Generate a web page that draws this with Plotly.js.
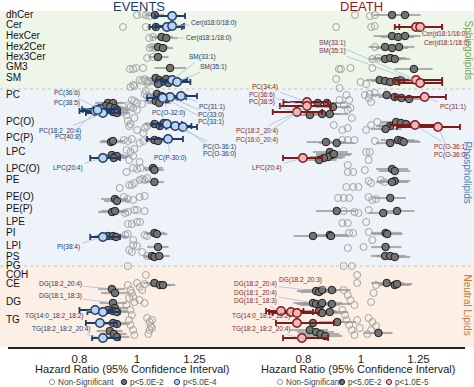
<!DOCTYPE html>
<html><head><meta charset="utf-8">
<script src="https://cdn.plot.ly/plotly-3.0.1.min.js"></script>
<style>html,body{margin:0;padding:0;background:#fff}#chart{width:474px;height:387px}</style>
</head><body><div id="chart"></div>
<script>
// ---------- DATA ----------
// row labels (lipid classes) and their row positions (species index)
const classNames = ['dhCer','Cer','HexCer','Hex2Cer','Hex3Cer','GM3','SM','PC','PC(O)','PC(P)','LPC','LPC(O)','PE','PE(O)','PE(P)','LPE','PI','LPI','PS','PG','COH','CE','DG','TG'];
const classRows  = [15,25,36,47,57,67,78,95,122,137,151,168,179,196,208,221,232,245,256,265,274,283,301,319];
const groupNames = ['Sphingolipids','Phospholipids','Neutral Lipids'];
const groupBounds = [[11,89],[89,266],[266,347]];
const tickVals = [0.8, 1, 1.25];
const tickText = ['0.8','1','1.25'];

// EVENTS: non-significant [row, HR]
const eventsNS = [[15,1.00],[14,1.02],[15,1.035],[16,1.05],[27,0.947],[27,1.035],[38,1.048],[37,1.064],[48,1.05],[47,1.06],[48,1.072],[58,1.04],[57,1.064],[69,0.973],[69,0.985],[68,0.996],[68,1.024],[80,1.01],[81,1.02],[79,1.03],[83,1.04],[85,0.985],[87,0.975],[86,0.99],[91,1.035],[94,1.03],[96,1.04],[98,1.05],[100,0.98],[101,0.99],[103,1.0],[99,1.06],[105,0.97],[107,0.975],[108,0.985],[110,1.0],[104,1.02],[112,0.95],[115,0.96],[118,0.99],[121,0.965],[124,0.975],[126,0.97],[128,1.03],[126,1.04],[130,1.0],[133,1.025],[140,0.95],[141,0.965],[139,0.98],[143,1.01],[141,1.025],[150,0.96],[152,0.975],[156,0.985],[160,0.97],[162,1.01],[149,0.99],[172,0.96],[168,0.985],[169,1.0],[168,1.015],[188,0.935],[185,0.97],[185,0.98],[183,0.99],[180,1.01],[179,1.02],[180,1.03],[178,1.04],[197,0.95],[199,0.965],[200,0.985],[197,1.01],[196,1.03],[213,0.955],[212,0.965],[210,0.99],[210,1.0],[211,1.03],[224,0.965],[224,0.98],[222,1.0],[222,1.012],[235,0.955],[234,0.965],[240,0.985],[235,1.03],[236,1.04],[250,0.97],[245,0.985],[246,1.0],[252,1.02],[252,0.98],[256,1.04],[266,0.965],[275,1.035],[283,1.0],[287,1.01],[290,1.02],[284,1.03],[285,0.965],[290,0.975],[293,0.98],[297,0.985],[302,0.99],[300,1.01],[303,1.03],[298,0.97],[305,0.96],[310,0.975],[315,0.98],[320,0.97],[325,0.975],[330,0.985],[335,0.99],[318,1.04],[322,1.05],[326,1.055],[330,1.05],[334,1.045],[320,1.06],[328,1.06]];
// EVENTS: p<5.0E-2 [row, HR, low, high]
const eventsSig = [[15,1.072,1.035,1.11],[27,1.076,1.04,1.115],[37,1.10,1.055,1.15],[38,1.12,1.07,1.17],[47,1.085,1.045,1.13],[48,1.106,1.06,1.15],[57,1.085,1.045,1.13],[68,1.137,1.07,1.21],[78,1.075,1.03,1.12],[80,1.09,1.04,1.14],[82,1.10,1.05,1.15],[79,1.12,1.06,1.18],[83,1.13,1.07,1.19],[84,1.085,1.03,1.14],[94,1.08,1.035,1.13],[96,1.10,1.05,1.15],[99,1.12,1.06,1.18],[101,1.075,1.03,1.12],[103,1.09,1.04,1.14],[103,0.893,0.85,0.94],[103,0.911,0.87,0.955],[106,0.886,0.845,0.93],[107,0.90,0.855,0.945],[108,0.918,0.875,0.96],[110,0.925,0.88,0.97],[112,0.911,0.865,0.955],[113,0.925,0.88,0.97],[124,1.07,1.03,1.11],[126,1.093,1.045,1.14],[123,1.11,1.06,1.16],[142,0.904,0.865,0.945],[141,0.911,0.87,0.95],[140,1.07,1.03,1.11],[141,1.085,1.04,1.13],[155,0.907,0.865,0.95],[157,0.918,0.875,0.965],[156,0.925,0.88,0.97],[158,0.914,0.87,0.96],[168,1.064,1.025,1.105],[170,1.07,1.03,1.11],[182,1.07,1.03,1.11],[199,0.918,0.87,0.965],[201,0.925,0.88,0.97],[212,0.908,0.86,0.955],[211,0.918,0.87,0.965],[236,0.893,0.85,0.94],[236,0.911,0.87,0.955],[237,0.922,0.88,0.965],[233,1.07,1.03,1.115],[234,1.08,1.035,1.125],[247,1.085,1.04,1.13],[256,1.06,1.025,1.1],[257,1.07,1.03,1.11],[256,1.09,1.045,1.135],[283,1.07,1.025,1.12],[285,1.093,1.045,1.14],[285,1.106,1.055,1.16],[289,0.907,0.86,0.955],[293,0.918,0.87,0.965],[303,0.911,0.865,0.96],[308,0.918,0.87,0.965],[310,0.893,0.85,0.94],[311,0.911,0.865,0.96],[312,0.925,0.88,0.97],[323,0.911,0.865,0.96],[324,0.925,0.88,0.97],[331,0.9,0.855,0.945],[334,0.914,0.87,0.96],[337,0.925,0.88,0.97]];
// EVENTS: p<5.0E-4 [row, HR, low, high]
const eventsTop = [[16,1.146,1.072,1.205],[27,1.123,1.05,1.19],[26,1.146,1.075,1.20],[80,1.146,1.08,1.215],[82,1.168,1.10,1.23],[97,1.137,1.07,1.21],[96,1.186,1.11,1.262],[98,1.105,1.04,1.17],[109,0.866,0.808,0.93],[111,0.85,0.80,0.905],[113,0.876,0.82,0.935],[110,0.858,0.81,0.915],[124,1.123,1.06,1.19],[126,1.16,1.09,1.235],[127,1.195,1.12,1.262],[139,1.128,1.04,1.195],[158,0.876,0.834,0.936],[237,0.876,0.834,0.936],[310,0.85,0.80,0.91],[312,0.876,0.825,0.935],[323,0.866,0.82,0.925],[338,0.876,0.84,0.935]];
// EVENTS labels: [text, set, index, label HR, label row]
const eventsLabels = [['Cer(d18:0/18:0)','top',2,1.348,23],['Cer(d18:1/18:0)','sig',3,1.322,38],['SM(33:1)','top',3,1.287,57],['SM(35:1)','top',4,1.343,67],['PC(36:6)','top',8,0.762,93],['PC(38:5)','top',9,0.762,103],['PC(31:1)','top',6,1.338,107],['PC(O-32:0)','top',7,1.128,113],['PC(33:0)','top',5,1.332,115],['PC(33:1)','sig',16,1.332,122],['PC(18:2_20:4)','top',10,0.742,131],['PC(40:8)','top',11,0.765,137],['PC(O-36:1)','top',13,1.375,147],['PC(O-36:0)','top',14,1.375,154],['PC(P-30:0)','top',15,1.137,158],['LPC(20:4)','top',16,0.765,168],['PI(38:4)','top',17,0.768,247],['DG(18:2_20:4)','sig',57,0.742,284],['DG(18:1_18:3)','sig',59,0.742,296],['TG(14:0_18:2_18:2)','top',18,0.727,316],['TG(18:2_18:2_20:4)','top',21,0.745,329]];

// DEATH: non-significant [row, HR]
const deathNS = [[15,0.977],[16,1.035],[15,1.055],[27,0.908],[27,1.04],[26,1.055],[47,1.056],[59,1.045],[58,1.07],[69,0.918],[69,0.925],[68,0.96],[68,1.045],[79,0.908],[82,0.998],[84,1.02],[88,0.92],[95,1.015],[94,1.035],[93,1.055],[100,0.92],[105,0.935],[95,0.945],[98,1.03],[102,1.04],[100,0.955],[110,0.95],[108,0.96],[125,0.9],[130,0.93],[128,0.95],[118,0.965],[125,1.04],[122,1.065],[127,1.09],[130,1.02],[140,0.93],[140,0.95],[140,0.975],[141,1.055],[152,1.02],[152,1.035],[160,1.03],[165,0.95],[172,0.95],[172,0.97],[170,1.015],[187,0.945],[187,0.97],[187,0.99],[181,1.03],[183,1.04],[180,1.08],[182,1.095],[198,0.915],[198,0.935],[198,0.955],[197,1.03],[200,1.045],[199,1.06],[211,0.935],[212,0.975],[213,0.99],[210,1.03],[223,0.93],[223,0.95],[222,1.02],[233,0.955],[233,0.97],[232,1.03],[240,1.045],[248,0.95],[247,1.01],[266,0.935],[266,0.965],[275,0.985],[285,1.06],[293,1.05],[302,1.04],[283,0.985],[290,0.935],[295,0.95],[300,0.96],[305,0.975],[310,0.93],[315,0.94],[320,0.945],[325,0.955],[330,0.965],[335,0.975],[318,1.03],[322,1.045],[326,1.06],[330,1.04],[334,1.025],[320,0.985],[328,0.995]];
// DEATH: p<5.0E-2
const deathSig = [[15,1.128,1.05,1.21],[15,1.186,1.11,1.26],[36,1.128,1.05,1.21],[37,1.155,1.08,1.23],[36,1.186,1.11,1.26],[47,1.098,1.03,1.17],[48,1.128,1.06,1.20],[47,1.159,1.09,1.23],[59,1.098,1.03,1.17],[58,1.12,1.05,1.19],[59,1.14,1.07,1.21],[69,1.228,1.14,1.32],[80,1.075,1.02,1.13],[81,1.098,1.04,1.16],[82,1.12,1.06,1.18],[81,1.146,1.08,1.21],[80,1.168,1.10,1.24],[95,1.105,1.04,1.17],[97,1.14,1.07,1.21],[98,1.17,1.10,1.24],[99,1.205,1.13,1.28],[103,0.846,0.79,0.91],[103,0.876,0.82,0.94],[107,0.897,0.84,0.96],[115,0.82,0.77,0.88],[114,0.86,0.80,0.92],[114,0.886,0.83,0.95],[126,1.12,1.06,1.19],[122,1.146,1.08,1.21],[123,1.168,1.10,1.24],[124,1.19,1.12,1.26],[129,1.10,1.04,1.17],[142,0.873,0.81,0.94],[143,0.91,0.85,0.975],[140,1.155,1.08,1.23],[141,1.17,1.10,1.25],[142,1.18,1.10,1.26],[143,1.12,1.06,1.19],[152,0.886,0.83,0.95],[155,0.893,0.84,0.96],[157,0.88,0.82,0.94],[158,0.866,0.81,0.93],[160,0.85,0.80,0.91],[154,0.9,0.84,0.965],[169,1.128,1.06,1.20],[171,1.14,1.07,1.21],[181,1.14,1.07,1.21],[182,1.128,1.06,1.20],[198,1.12,1.05,1.19],[211,0.91,0.84,0.98],[213,1.09,1.03,1.16],[211,1.15,1.08,1.23],[236,0.83,0.77,0.89],[235,0.886,0.83,0.95],[236,0.89,0.83,0.955],[233,1.10,1.04,1.17],[234,1.107,1.045,1.175],[247,1.10,1.04,1.17],[256,1.098,1.04,1.16],[256,1.12,1.06,1.19],[257,1.14,1.08,1.21],[283,1.105,1.04,1.18],[285,1.14,1.07,1.21],[284,1.15,1.08,1.22],[291,0.84,0.78,0.90],[292,0.85,0.79,0.91],[290,0.86,0.80,0.92],[290,0.893,0.83,0.96],[303,0.83,0.77,0.89],[304,0.84,0.78,0.90],[305,0.855,0.79,0.92],[303,0.86,0.80,0.93],[304,0.893,0.83,0.96],[311,0.85,0.79,0.91],[313,0.86,0.80,0.925],[312,0.886,0.83,0.95],[323,0.83,0.77,0.89],[322,0.912,0.85,0.98],[330,0.82,0.76,0.88],[332,0.84,0.78,0.90],[334,0.855,0.80,0.92],[336,0.87,0.81,0.93],[333,1.07,1.01,1.13]];
// DEATH: p<1.0E-5
const deathTop = [[27,1.238,1.14,1.37],[27,1.258,1.16,1.37],[80,1.238,1.14,1.37],[83,1.258,1.16,1.37],[97,1.28,1.14,1.39],[102,0.811,0.74,0.88],[106,0.811,0.73,0.89],[112,0.78,0.71,0.86],[125,1.233,1.12,1.35],[127,1.348,1.15,1.468],[158,0.798,0.739,0.86],[311,0.733,0.692,0.80],[312,0.762,0.70,0.83],[313,0.78,0.71,0.85],[323,0.78,0.719,0.90],[338,0.795,0.739,0.88]];
const deathLabels = [['Cer(d18:1/16:0)','top',1,1.385,34],['Cer(d18:1/18:0)','top',0,1.395,43],['SM(33:1)','top',2,0.894,43],['SM(35:1)','top',3,0.894,51],['PC(34:4)','top',5,0.689,87],['PC(36:6)','top',6,0.681,95],['PC(38:5)','top',7,0.681,102],['PC(31:1)','top',4,1.429,107],['PC(18:2_20:4)','top',7,0.668,131],['PC(16:0_20:4)','top',6,0.668,140],['PC(O-36:1)','top',8,1.413,147],['PC(O-36:0)','top',9,1.413,155],['LPC(20:4)','top',10,0.694,168],['DG(18:2_20:3)','sig',67,0.792,280],['DG(18:2_20:4)','sig',64,0.665,284],['DG(18:1_20:4)','sig',68,0.665,293],['DG(18:1_18:3)','top',11,0.665,301],['TG(14:0_18:2_18:2)','top',12,0.681,316],['TG(18:2_18:2_20:4)','top',15,0.681,329]];

// ---------- STYLE ----------
const W = 474, H = 387;
const px = v => v / W, py = v => 1 - v / H;
const FONT = 'Liberation Sans, Arial, sans-serif';
const NAVY = '#213b68', DRED = '#7e1a1a';
const panels = [
  {xa:'x', ns:eventsNS, sig:eventsSig, top:eventsTop, labels:eventsLabels, topFill:'#b9d4f0', topLine:NAVY, labelColor:'#253c66'},
  {xa:'x2', ns:deathNS, sig:deathSig, top:deathTop, labels:deathLabels, topFill:'#f3b5b5', topLine:DRED, labelColor:'#84282a'}
];

const traces = [];
const annotations = [];
panels.forEach(p => {
  traces.push({type:'scatter', mode:'markers', xaxis:p.xa, yaxis:'y',
    x:p.ns.map(d=>d[1]), y:p.ns.map(d=>d[0]),
    marker:{symbol:'circle-open', size:7, color:'#a3a3a3', line:{width:1}}, hoverinfo:'skip'});
  traces.push({type:'scatter', mode:'markers', xaxis:p.xa, yaxis:'y',
    x:p.sig.map(d=>d[1]), y:p.sig.map(d=>d[0]),
    error_x:{type:'data', symmetric:false, array:p.sig.map(d=>d[3]-d[1]), arrayminus:p.sig.map(d=>d[1]-d[2]), color:'rgba(150,150,150,0.75)', thickness:2.2, width:0},
    marker:{size:7.5, color:'#737373', line:{color:'#1c1c1c', width:1}}, hoverinfo:'skip'});
  traces.push({type:'scatter', mode:'markers', xaxis:p.xa, yaxis:'y',
    x:p.top.map(d=>d[1]), y:p.top.map(d=>d[0]),
    error_x:{type:'data', symmetric:false, array:p.top.map(d=>d[3]-d[1]), arrayminus:p.top.map(d=>d[1]-d[2]), color:p.topLine, thickness:1.8, width:3},
    marker:{size:8.5, color:p.topFill, line:{color:p.topLine, width:1.4}}, hoverinfo:'skip'});
  const sets = {sig:p.sig, top:p.top};
  p.labels.forEach(([t, s, i, lx, ly]) => {
    const pt = sets[s][i];
    annotations.push({xref:p.xa, yref:'y', axref:p.xa, ayref:'y',
      x:Math.log10(pt[1]), y:pt[0], ax:Math.log10(lx), ay:ly,
      text:t, showarrow:true, arrowhead:0, arrowwidth:0.8, arrowcolor:'#a6bfd8', standoff:4,
      font:{family:FONT, size:6.5, color:p.labelColor}});
  });
});

// class labels on the left
classNames.forEach((c, i) => annotations.push({xref:'paper', yref:'y', x:px(4), y:classRows[i], xanchor:'left', yanchor:'middle', text:c, showarrow:false, font:{family:FONT, size:10, color:'#111'}}));

// group labels on the right
const groupColors = ['#7ba05b','#4c7db0','#c27a3a'];
const groupCenters = [50, 172, 305];
groupNames.forEach((g, i) => annotations.push({xref:'paper', yref:'y', x:px(467.5), y:groupCenters[i], xanchor:'center', yanchor:'middle', text:g, textangle:90, showarrow:false, font:{family:FONT, size:10, color:groupColors[i]}}));

// titles
const T = (x, y, text, size, color, xanchor) => annotations.push({xref:'paper', yref:'paper', x:px(x), y:py(y), xanchor:xanchor||'center', yanchor:'middle', text:text, showarrow:false, font:{family:FONT, size:size, color:color}});
T(139, 6, 'EVENTS', 13, NAVY);
T(361, 6, 'DEATH', 13, '#8e1c1c');
T(132, 369, 'Hazard Ratio (95% Confidence Interval)', 11, '#222');
T(358, 369, 'Hazard Ratio (95% Confidence Interval)', 11, '#222');

// legend
const legendItems = [
  [52,'Non-Significant','open',null],[124,'p<5.0E-2','#737373','#1c1c1c'],[177,'p<5.0E-4','#b9d4f0',NAVY],
  [280,'Non-Significant','open',null],[342,'p<5.0E-2','#737373','#1c1c1c'],[389,'p<1.0E-5','#f3b5b5',DRED]
];
const shapes = [];
legendItems.forEach(([x, t, fill, line]) => {
  shapes.push({type:'circle', xref:'paper', yref:'paper', x0:px(x-2.6), x1:px(x+2.6), y0:py(382+2.6), y1:py(382-2.6),
    fillcolor: fill==='open' ? 'rgba(0,0,0,0)' : fill, line:{color: fill==='open' ? '#9d9d9d' : line, width:1}});
  T(x+4, 382, t, 8.2, '#444', 'left');
});

// background bands
const bandColors = ['#eef5e9','#eef3fa','#fcefe6'];
groupBounds.forEach((b, i) => shapes.push({type:'rect', xref:'paper', yref:'y', x0:0, x1:1, y0:b[0], y1:b[1], fillcolor:bandColors[i], line:{width:0}, layer:'below'}));
[89, 266].forEach(r => shapes.push({type:'line', xref:'paper', yref:'y', x0:0, x1:1, y0:r, y1:r, line:{color:'#b5b5b5', width:0.8, dash:'dot'}, layer:'below'}));
['x','x2'].forEach(xa => shapes.push({type:'line', xref:xa, yref:'y', x0:0, x1:0, y0:11, y1:347, line:{color:'#555', width:1.5}, layer:'below'}));

const axisBase = {type:'log', tickvals:tickVals, ticktext:tickText, ticks:'', 
  showline:true, linecolor:'#222', linewidth:1.8, showgrid:false, zeroline:false, anchor:'y',
  tickfont:{family:FONT, size:11.5, color:'#222'}, fixedrange:true};

const layout = {
  width:W, height:H, margin:{l:0, r:0, t:0, b:0}, paper_bgcolor:'#fff', plot_bgcolor:'rgba(0,0,0,0)',
  showlegend:false, font:{family:FONT},
  xaxis:Object.assign({}, axisBase, {domain:[px(8), px(236)], range:[-0.2174, 0.1668]}),
  xaxis2:Object.assign({}, axisBase, {domain:[px(236), px(465)], range:[-0.2106, 0.1752]}),
  yaxis:{domain:[py(347), py(11)], range:[347, 11], showgrid:false, zeroline:false, showticklabels:false, showline:false, ticks:'', fixedrange:true},
  shapes:shapes, annotations:annotations
};
Plotly.newPlot('chart', traces, layout, {displayModeBar:false, staticPlot:true});
</script></body></html>
